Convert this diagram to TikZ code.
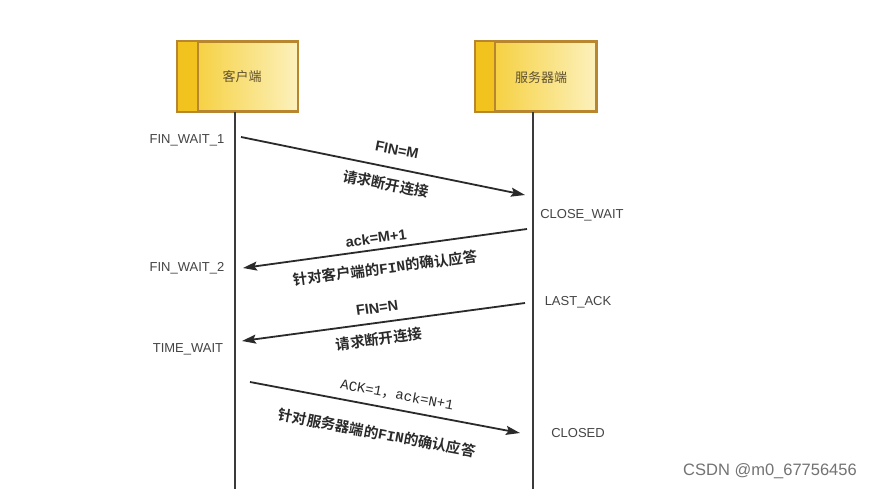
\documentclass[tikz,border=0pt]{standalone}
\usepackage{fontspec}
\setmainfont{Liberation Sans}
\newfontfamily\cjk{Noto Sans CJK SC}
\newfontfamily\cjkb{Noto Sans CJK SC Bold}
\newfontfamily\monof{Liberation Mono}
\usetikzlibrary{arrows.meta}
\definecolor{boxborder}{HTML}{B8862E}
\definecolor{stripfill}{HTML}{F2C21E}
\definecolor{boxleft}{HTML}{F5CB2C}
\definecolor{boxright}{HTML}{FCF1BC}
\definecolor{lifeline}{HTML}{3A3A3A}
\definecolor{statecol}{HTML}{444444}
\definecolor{boxtext}{HTML}{5E5030}
\definecolor{msgcol}{HTML}{2A2A2A}
\begin{document}
\begin{tikzpicture}[x=1pt,y=-1pt,
  actorbox/.style={draw=boxborder, line width=1.6pt, minimum width=120pt, minimum height=69pt,
    left color=boxleft, right color=boxright, inner sep=0pt},
  boxlbl/.style={font=\cjk\fontsize{13}{15}\selectfont, text=boxtext},
  statelbl/.style={font=\fontsize{13}{15}\selectfont, text=statecol},
  msgarrow/.style={draw=msgcol, line width=1.8pt, -{Stealth[length=14pt,width=9pt,inset=2.5pt]}},
  msglbl/.style={font=\bfseries\fontsize{14.5}{16}\selectfont, text=msgcol},
  cnlbl/.style={font=\cjkb\fontsize{14.5}{16}\selectfont, text=msgcol},
  monolbl/.style={font=\monof\fontsize{14}{16}\selectfont, text=msgcol},
  life/.style={draw=lifeline, line width=1.8pt}]
\useasboundingbox (0,0) rectangle (873,489);
\fill[white] (0,0) rectangle (873,489);
% actor boxes
\node[actorbox] (client) at (237.5,76.5) {};
\fill[stripfill] ([xshift=0.8pt,yshift=-0.8pt]client.north west) rectangle ([xshift=21pt,yshift=0.8pt]client.south west);
\draw[boxborder, line width=1.6pt] ([xshift=21pt]client.north west) -- ([xshift=21pt]client.south west);
\draw[boxborder, line width=1.6pt] (client.north west) rectangle (client.south east);
\node[boxlbl] (clientlbl) at (242,77) {客户端};
\node[actorbox] (server) at (536,76.5) {};
\fill[stripfill] ([xshift=0.8pt,yshift=-0.8pt]server.north west) rectangle ([xshift=20pt,yshift=0.8pt]server.south west);
\draw[boxborder, line width=1.6pt] ([xshift=20pt]server.north west) -- ([xshift=20pt]server.south west);
\draw[boxborder, line width=1.6pt] (server.north west) rectangle (server.south east);
\node[boxlbl] (serverlbl) at (541,78) {服务器端};
% lifelines
\coordinate (cend) at (235,489);
\coordinate (send) at (533,489);
\draw[life] (client.south -| cend) -- (cend);
\draw[life] (server.south -| send) -- (send);
% states
\node[statelbl] (s1) at (187,140) {FIN\_WAIT\_1};
\node[statelbl] (s2) at (582,215) {CLOSE\_WAIT};
\node[statelbl] (s3) at (187,268) {FIN\_WAIT\_2};
\node[statelbl] (s4) at (578,302) {LAST\_ACK};
\node[statelbl] (s5) at (188,349) {TIME\_WAIT};
\node[statelbl] (s6) at (578,433) {CLOSED};
% message endpoints
\coordinate (a1s) at (241,137);
\coordinate (a1e) at (525,195);
\coordinate (a2s) at (527,229);
\coordinate (a2e) at (243,268);
\coordinate (a3s) at (525,303);
\coordinate (a3e) at (242,341);
\coordinate (a4s) at (250,382);
\coordinate (a4e) at (520,433);
\draw[msgarrow] (a1s) -- (a1e);
\draw[msgarrow] (a2s) -- (a2e);
\draw[msgarrow] (a3s) -- (a3e);
\draw[msgarrow] (a4s) -- (a4e);
% message labels
\node[msglbl, rotate=-11] (m1a) at (397,150) {FIN=M};
\node[cnlbl, rotate=-11] (m1b) at (386,184) {请求断开连接};
\node[msglbl, rotate=7.5] (m2a) at (376,238) {ack=M+1};
\node[cnlbl, rotate=7.5] (m2b) at (385,268) {针对客户端的{\monof\bfseries FIN}的确认应答};
\node[msglbl, rotate=8] (m3a) at (377,308) {FIN=N};
\node[cnlbl, rotate=8] (m3b) at (379,339) {请求断开连接};
\node[monolbl, rotate=-10.7] (m4a) at (397,395) {ACK=1{\cjk ，}ack=N+1};
\node[cnlbl, rotate=-10.7] (m4b) at (377,433) {针对服务器端的{\monof\bfseries FIN}的确认应答};
% watermark
\node[font=\fontsize{16.5}{18}\selectfont, text=black!55] (wm) at (770,471) {CSDN @m0\_67756456};
\end{tikzpicture}
\end{document}
